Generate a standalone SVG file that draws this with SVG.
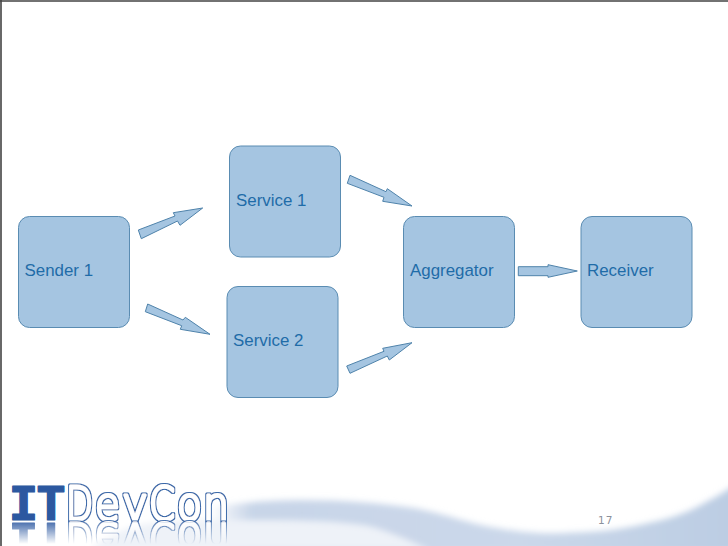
<svg xmlns="http://www.w3.org/2000/svg" width="728" height="546" viewBox="0 0 728 546">
<style>
.box{fill:#a5c5e1;stroke:#5a8cb2;stroke-width:1}
.label{font-family:"Liberation Sans",Arial,sans-serif;font-size:16.9px;fill:#1f6ca8}
.arrow{fill:#a5c5e1;stroke:#4f83ab;stroke-width:1;stroke-linejoin:miter}
.solid{font-family:"DejaVu Sans Mono",monospace;font-weight:bold;font-size:46px;fill:#2c58a0;stroke:#2c58a0;stroke-width:1.2;stroke-linejoin:round}
.hollow{font-family:"DejaVu Sans",sans-serif;font-weight:200;font-size:46px;fill:#fff;stroke:#fff;stroke-width:3;stroke-linejoin:round;stroke-linecap:round}
</style>
<defs>
<linearGradient id="band" x1="210" x2="728" y1="0" y2="0" gradientUnits="userSpaceOnUse">
<stop offset="0" stop-color="#c8d5e8" stop-opacity="0"/>
<stop offset="0.08" stop-color="#c8d5e8"/>
<stop offset="0.6" stop-color="#cbd8ea"/>
<stop offset="1" stop-color="#bccde3"/>
</linearGradient>
<linearGradient id="reflectFade" x1="0" x2="0" y1="521" y2="544" gradientUnits="userSpaceOnUse">
<stop offset="0" stop-color="#fff" stop-opacity="0.9"/>
<stop offset="1" stop-color="#fff" stop-opacity="0"/>
</linearGradient>
<mask id="reflectMask" maskUnits="userSpaceOnUse" x="0" y="518" width="240" height="28">
<rect x="0" y="518" width="240" height="28" fill="url(#reflectFade)"/>
</mask>
<filter id="soft" x="-5%" y="-30%" width="110%" height="160%"><feGaussianBlur stdDeviation="3"/></filter>
<filter id="tube" x="-10%" y="-10%" width="120%" height="120%">
<feMorphology in="SourceAlpha" operator="dilate" radius="0.8" result="fat"/>
<feFlood flood-color="#3a68a8"/>
<feComposite in2="fat" operator="in" result="edge"/>
<feMerge><feMergeNode in="edge"/><feMergeNode in="SourceGraphic"/></feMerge>
</filter>
<g id="logoText">
<text class="solid" x="8.5" y="520" textLength="30" lengthAdjust="spacingAndGlyphs">I</text>
<text class="solid" x="36" y="520" textLength="30" lengthAdjust="spacingAndGlyphs">T</text>
<g filter="url(#tube)">
<text class="hollow" x="66" y="520" textLength="27" lengthAdjust="spacingAndGlyphs">D</text>
<text class="hollow" x="95" y="520" textLength="25" lengthAdjust="spacingAndGlyphs">e</text>
<text class="hollow" x="122" y="520" textLength="26" lengthAdjust="spacingAndGlyphs">v</text>
<text class="hollow" x="149" y="520" textLength="26" lengthAdjust="spacingAndGlyphs">C</text>
<text class="hollow" x="177" y="520" textLength="25" lengthAdjust="spacingAndGlyphs">o</text>
<text class="hollow" x="203" y="520" textLength="26" lengthAdjust="spacingAndGlyphs">n</text>
</g>
</g>
</defs>

<rect width="728" height="546" fill="#fff"/>
<path d="M0 1H728M1 0V546" fill="none" stroke="#444" stroke-width="1.6"/>

<g id="background-swoosh">
<path d="M210 507C245 502 275 500 300 500C345 500 380 503 414 508C450 515 470 524 497 528C525 533 545 534 564 533C590 532 610 531 630 527C660 521 680 516 697 507C710 500 720 495 735 485V552H90C110 533 130 526 150 523C180 519 200 519 210 519Z" fill="url(#band)" filter="url(#soft)"/>
<path d="M90 550C110 533 130 526 150 523C180 519 210 520 240 520C290 520 330 520 364 525C380 528 400 536 430 550Z" fill="#eef2f8" filter="url(#soft)"/>
</g>

<g id="connectors">
<polygon class="arrow" points="138.3,230 175,216 173.3,212.7 202.7,208 180,225.3 177.5,221 141.3,238.7"/>
<polygon class="arrow" points="147.7,304 183,320 185.3,317.3 210,334.3 180.3,329.3 181.7,325.7 145.3,311.7"/>
<polygon class="arrow" points="350,175.3 386,191.7 387.3,188.7 412,206 382.7,201.3 384,197.3 347.3,183.3"/>
<polygon class="arrow" points="346.7,366 384,351.3 382.7,348.3 412,342.7 389.3,360 387.3,356 350,373.3"/>
<polygon class="arrow" points="518.3,266.7 548,266.7 548,264.7 577.3,271 548,277.3 548,275.7 518.3,275.7"/>
</g>

<g id="sender-1">
<rect class="box" x="18.5" y="216.5" width="111" height="111" rx="11"/>
<text class="label" x="24.5" y="276">Sender 1</text>
</g>
<g id="service-1">
<rect class="box" x="229.5" y="146" width="111" height="111" rx="11"/>
<text class="label" x="236" y="206">Service 1</text>
</g>
<g id="service-2">
<rect class="box" x="227" y="286.5" width="111" height="111" rx="11"/>
<text class="label" x="233" y="346">Service 2</text>
</g>
<g id="aggregator">
<rect class="box" x="403.5" y="216.5" width="111" height="111" rx="11"/>
<text class="label" x="410" y="276">Aggregator</text>
</g>
<g id="receiver">
<rect class="box" x="581" y="216.5" width="111" height="111" rx="11"/>
<text class="label" x="587" y="276">Receiver</text>
</g>

<g id="logo">
<use href="#logoText"/>
<g mask="url(#reflectMask)"><use href="#logoText" transform="translate(0 1043) scale(1 -1)"/></g>
</g>
<text x="598" y="524" font-family="'DejaVu Sans',sans-serif" font-size="10.5" letter-spacing="1" fill="#8b919c">17</text>
</svg>
